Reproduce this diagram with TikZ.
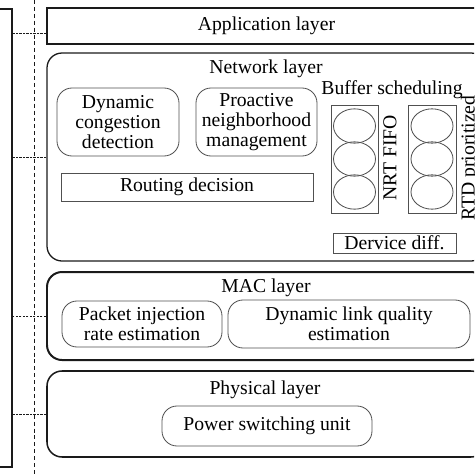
\documentclass[tikz,border=0pt]{standalone}
\usepackage{fontspec}
\setmainfont{Liberation Serif}
\usetikzlibrary{positioning, fit, shapes.geometric}
\definecolor{boxGrey}{HTML}{505050}
\definecolor{frameDark}{HTML}{1A1A1A}

\tikzset{
  layerbox/.style={draw=frameDark, line width=1.1pt, rounded corners=4.5mm, inner sep=0pt},
  funcbox/.style={draw=boxGrey, line width=0.7pt, rounded corners=4.5mm, inner sep=0pt},
  plainbox/.style={draw=boxGrey, line width=0.7pt, inner sep=0pt},
  intext/.style={label={[align=center]center:#1}},
  qslot/.style={draw=boxGrey, ellipse, line width=0.7pt, minimum width=1.26cm, minimum height=1.03cm, inner sep=0pt},
  tie/.style={draw=frameDark, line width=0.5pt, dash pattern=on 2pt off 1pt}
}

\begin{document}
\begin{tikzpicture}[x=0.03cm, y=-0.03cm, font=\fontsize{16.8pt}{17pt}\selectfont]
  \useasboundingbox (0,0) rectangle (474,474);
  \clip (0,0) rectangle (474,474);

  % cadre gauche et séparation
  \node[draw=frameDark, line width=1.1pt, inner sep=0pt, fit={(-30,9) (12,467)}] (stack) {};
  \draw[frameDark, line width=0.7pt, dash pattern=on 3.4pt off 2.5pt] (34,0) -- (34,474);

  % couches
  \node[draw=frameDark, line width=1.1pt, inner sep=0pt, fit={(47,8) (486,44)},
        intext={Application layer}] (app) {};
  \node[layerbox, fit={(47,53) (486,261)}] (net) {};
  \node[layerbox, line width=1.7pt, fit={(47,272) (486,360)}] (mac) {};
  \node[layerbox, line width=1.3pt, fit={(47,371) (486,457)}] (phy) {};

  % couche réseau
  \node (netlbl) at (266,69) {Network layer};
  \node[funcbox, fit={(57,88) (179,156)}, intext={Dynamic\\congestion\\detection}] (congest) {};
  \node[funcbox, fit={(196,88) (317,156)}, intext={Proactive\\neighborhood\\management}] (neigh) {};
  \node[plainbox, fit={(61,173) (313,201)}, intext={Routing decision}] (route) {};
  \node (buflbl) at (392,90) {Buffer scheduling};
  \node[plainbox, fit={(331,105) (378,213)}] (nrtq) {};
  \node[plainbox, fit={(408,105) (456,213)}] (rtdq) {};
  \foreach \i/\y in {1/126, 2/159, 3/192} {
    \node[qslot] (nrt\i) at (354.5,\y) {};
    \node[qslot] (rtd\i) at (432,\y) {};
  }
  \node[rotate=90] (nrtlbl) at (390,158) {NRT FIFO};
  \node[rotate=90] (rtdlbl) at (470,158) {RTD prioritized};
  \node[plainbox, fit={(333,233) (456,253)}, intext={Dervice diff.}] (devdiff) {};

  % couche MAC
  \node (maclbl) at (266,288) {MAC layer};
  \node[funcbox, fit={(62,301) (222,347)}, intext={Packet injection\\rate estimation}] (inject) {};
  \node[funcbox, fit={(228,300) (470,348)}, intext={Dynamic link quality\\estimation}] (linkq) {};

  % couche physique
  \node (phylbl) at (265,390) {Physical layer};
  \node[funcbox, fit={(162,406) (372,446)}, intext={Power switching unit}] (power) {};

  % liens pointillés
  \draw[tie] (app.west) ++(0,7) coordinate (appin) -- (stack.east |- appin);
  \foreach \l in {net, mac, phy}
    \draw[tie] (\l.west) -- (stack.east |- \l.west);
\end{tikzpicture}
\end{document}
